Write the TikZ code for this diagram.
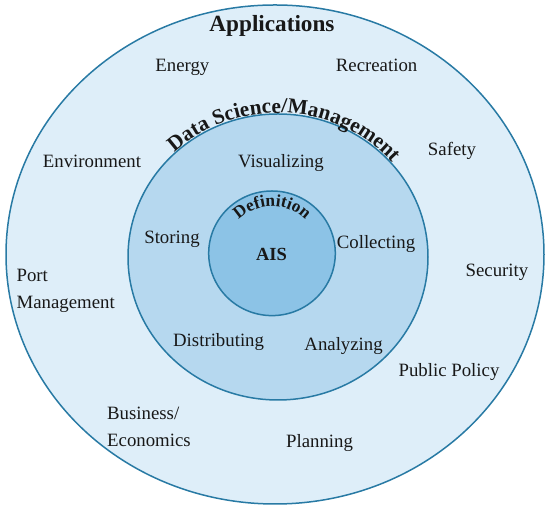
\documentclass[tikz,border=0pt]{standalone}
\usepackage{fontspec}
\setmainfont{Liberation Serif}
\usetikzlibrary{decorations.text}
\definecolor{ringline}{RGB}{40,122,164}
\definecolor{outerfill}{RGB}{222,238,249}
\definecolor{midfill}{RGB}{182,216,239}
\definecolor{innerfill}{RGB}{140,195,230}
\definecolor{txt}{RGB}{24,24,24}
\begin{document}
\begin{tikzpicture}[x=1pt,y=1pt,
  ring/.style={draw=ringline,line width=1.5pt},
  lbl/.style={text=txt,inner sep=0pt,yshift=-3pt,font=\fontsize{18.8}{22}\selectfont,text height=0.66em,text depth=0pt},
  boldlbl/.style={lbl,font=\bfseries\fontsize{18.5}{22}\selectfont},
  titlelbl/.style={lbl,font=\bfseries\fontsize{23.2}{27}\selectfont}]
\useasboundingbox (0,0) rectangle (550,510);
\coordinate (oc) at (275,255.5);
\coordinate (mc) at (278,253);
\coordinate (ic) at (272,256.7);
\filldraw[ring,fill=outerfill] (oc) ellipse[x radius=269pt,y radius=249.5pt];
\filldraw[ring,fill=midfill] (mc) ellipse[x radius=150pt,y radius=143pt];
\filldraw[ring,fill=innerfill] (ic) ellipse[x radius=63.3pt,y radius=62.3pt];
% curved titles
\path[decorate,decoration={text along path,text align=center,text color=txt,
  text={|\bfseries\fontsize{21.3}{25}\selectfont|Data Science/Management}}]
  ([shift={(177:151pt and 144pt)}]mc) arc[start angle=177,end angle=-3,x radius=151pt,y radius=144pt];
\path[decorate,decoration={text along path,text align=center,text color=txt,
  text={|\bfseries\fontsize{17.3}{20}\selectfont|Definition}}]
  ([shift={(180:47pt)}]ic) arc[start angle=180,end angle=0,radius=47pt];
% labels
\node[titlelbl] (apps) at (272,485) {Applications};
\node[lbl] (energy) at (182.4,445) {Energy};
\node[lbl] (recreation) at (376.6,444.3) {Recreation};
\node[lbl] (environment) at (92,349) {Environment};
\node[lbl] (safety) at (452,361) {Safety};
\node[lbl] (security) at (497,240) {Security};
\node[lbl,anchor=west] (port1) at (16.4,234.5) {Port};
\node[lbl,anchor=west] (port2) at (16.4,208) {Management};
\node[lbl] (policy) at (449,140) {Public Policy};
\node[lbl,anchor=west] (bus1) at (107,96.5) {Business/};
\node[lbl,anchor=west] (bus2) at (107,70) {Economics};
\node[lbl] (planning) at (319.5,69) {Planning};
\node[lbl] (visualizing) at (281,349) {Visualizing};
\node[lbl] (storing) at (172,273) {Storing};
\node[lbl] (collecting) at (376,268) {Collecting};
\node[lbl] (distributing) at (218.6,169.3) {Distributing};
\node[lbl] (analyzing) at (343.6,166) {Analyzing};
\node[boldlbl] (ais) at (271.5,256) {AIS};
\end{tikzpicture}
\end{document}
